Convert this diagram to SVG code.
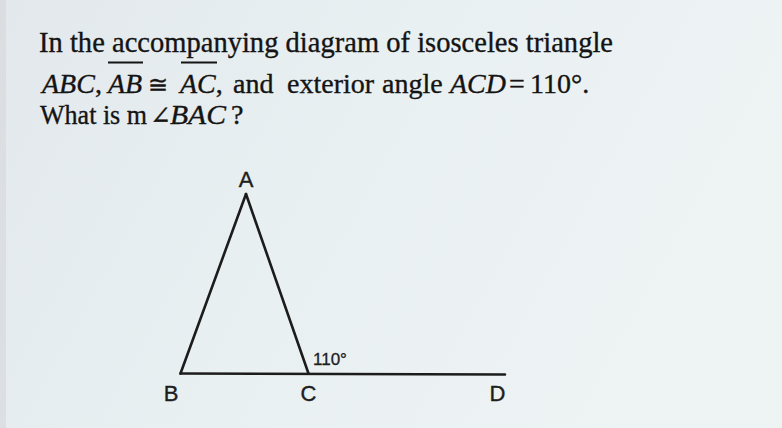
<svg xmlns="http://www.w3.org/2000/svg" width="782" height="428" viewBox="0 0 782 428">
  <defs>
    <linearGradient id="bg" x1="0" y1="0" x2="1" y2="0.3">
      <stop offset="0" stop-color="#e2e8eb"/>
      <stop offset="0.5" stop-color="#e9f0f2"/>
      <stop offset="1" stop-color="#eef3f4"/>
    </linearGradient>
    <style>
      .q { font-family: "Liberation Serif", "Times New Roman", serif; font-size: 28.5px; fill: #141414; stroke: #141414; stroke-width: 0.35px; }
      .q2 { font-size: 28px; }
      .it { font-style: italic; }
      .sym { font-family: "Liberation Serif", "DejaVu Serif", serif; font-size: 24px; }
      .angs { font-family: "Liberation Serif", "DejaVu Serif", serif; font-size: 25px; }
      .lbl { font-family: "Liberation Sans", Arial, sans-serif; font-size: 22px; fill: #1e1e1e; stroke: #1e1e1e; stroke-width: 0.4px; text-anchor: middle; }
      .ang { font-family: "Liberation Sans", Arial, sans-serif; font-size: 17px; fill: #1e1e1e; stroke: #1e1e1e; stroke-width: 0.3px; }
      .edge { stroke: #1c1c1c; stroke-width: 2.6; stroke-linecap: round; fill: none; }
      .bar { stroke: #151515; stroke-width: 2.2; }
    </style>
  </defs>

  <rect width="782" height="428" fill="url(#bg)"/>
  <rect x="0" y="0" width="6" height="428" fill="#d9dadd" opacity="0.7"/>

  <g id="question">
    <text class="q" x="39" y="52" textLength="574" lengthAdjust="spacing">In the accompanying diagram of isosceles triangle</text>
    <text class="q q2" y="93">
      <tspan class="it" x="42">ABC</tspan><tspan>,</tspan>
      <tspan class="it" x="108">AB</tspan>
      <tspan class="sym" x="148">≅</tspan>
      <tspan class="it" x="180">AC</tspan><tspan>,</tspan>
      <tspan x="233">and</tspan>
      <tspan x="287">exterior</tspan>
      <tspan x="382">angle</tspan>
      <tspan class="it" x="450">ACD</tspan>
      <tspan x="509">=</tspan>
      <tspan x="530">110°.</tspan>
    </text>
    <line class="bar" x1="108" y1="62.5" x2="143" y2="62.5"/>
    <line class="bar" x1="181" y1="62.5" x2="217" y2="62.5"/>
    <text class="q q2" y="124">
      <tspan x="40" textLength="107" lengthAdjust="spacingAndGlyphs">What is m</tspan><tspan class="angs" x="150">∠</tspan><tspan class="it" x="170" textLength="56" lengthAdjust="spacingAndGlyphs">BAC</tspan><tspan x="231">?</tspan>
    </text>
  </g>

  <g id="connectors">
    <line class="edge" x1="246" y1="194" x2="180.5" y2="373.5"/>
    <line class="edge" x1="246" y1="194" x2="308.5" y2="373.5"/>
    <line class="edge" x1="180.5" y1="373.5" x2="505" y2="374.5"/>
  </g>

  <g id="A"><text class="lbl" x="246" y="187">A</text></g>
  <g id="B"><text class="lbl" x="171" y="401">B</text></g>
  <g id="C">
    <text class="lbl" x="308.5" y="401">C</text>
    <text class="ang" x="313" y="365">110°</text>
  </g>
  <g id="D"><text class="lbl" x="497.5" y="401">D</text></g>
</svg>
